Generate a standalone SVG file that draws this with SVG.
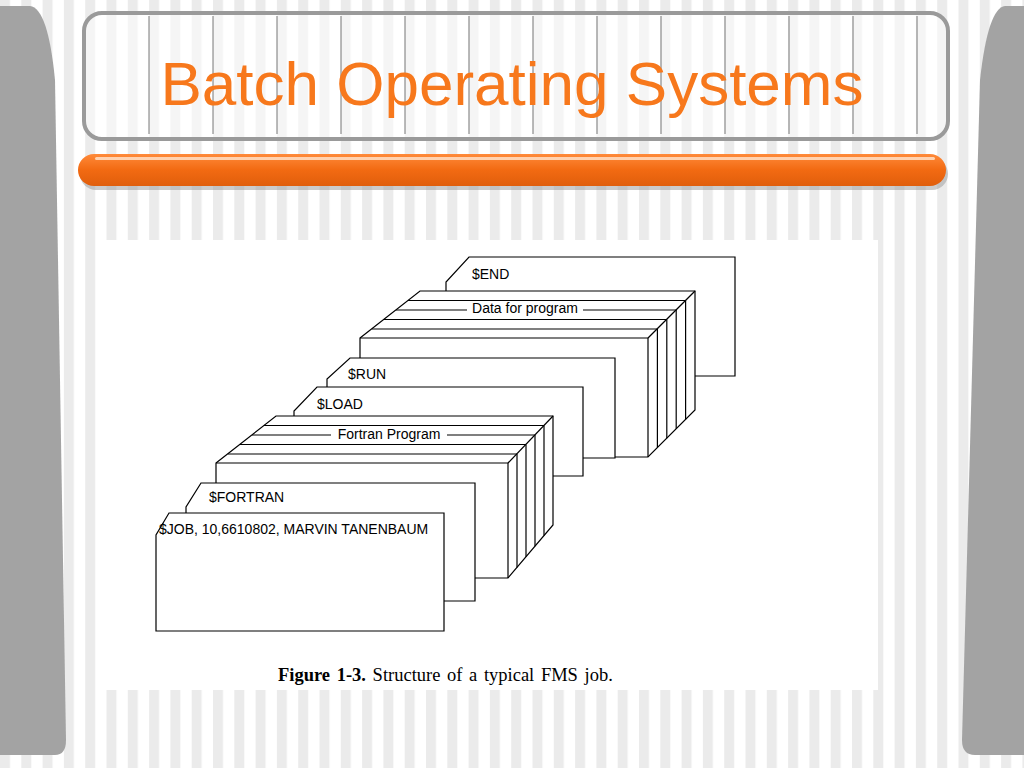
<svg xmlns="http://www.w3.org/2000/svg" width="1024" height="768" viewBox="0 0 1024 768">
<defs>
<pattern id="st" x="0" y="0" width="21.3" height="768" patternUnits="userSpaceOnUse"><rect x="0" y="0" width="10" height="768" fill="#ebebeb"/></pattern>
<linearGradient id="bar" x1="0" y1="0" x2="0" y2="1"><stop offset="0" stop-color="#ff8a3a"/><stop offset="0.5" stop-color="#f26a12"/><stop offset="1" stop-color="#e05e0c"/></linearGradient>
</defs>
<style>
.c{fill:#fff;stroke:#000;stroke-width:1.2}
.l{fill:none;stroke:#000;stroke-width:1.2}
.t{font-family:"Liberation Sans",Arial,sans-serif;font-size:14px;fill:#000}
</style>
<rect width="1024" height="768" fill="#fff"/>
<rect width="1024" height="768" fill="url(#st)"/>
<path d="M0,6 L30,6 Q48,8 55,80 L66,740 Q66,755 55,755 L0,755 Z" fill="#a3a3a3"/>
<path d="M1024,6 L1005,6 Q988,8 980,80 L962,740 Q962,755 975,755 L1024,755 Z" fill="#a3a3a3"/>
<rect x="84" y="13" width="864" height="126" rx="18" fill="#fff" fill-opacity="0.5" stroke="#9a9a9a" stroke-width="4"/>
<g stroke="#555" stroke-width="0.8"><line x1="149" y1="16" x2="149" y2="134"/><line x1="213" y1="16" x2="213" y2="134"/><line x1="277" y1="16" x2="277" y2="134"/><line x1="341" y1="16" x2="341" y2="134"/><line x1="405" y1="16" x2="405" y2="134"/><line x1="469" y1="16" x2="469" y2="134"/><line x1="533" y1="16" x2="533" y2="134"/><line x1="597" y1="16" x2="597" y2="134"/><line x1="661" y1="16" x2="661" y2="134"/><line x1="725" y1="16" x2="725" y2="134"/><line x1="789" y1="16" x2="789" y2="134"/><line x1="853" y1="16" x2="853" y2="134"/><line x1="917" y1="16" x2="917" y2="134"/></g>
<text x="512" y="105" text-anchor="middle" font-family="Liberation Sans,Arial,sans-serif" font-size="62" fill="#f7781c">Batch Operating Systems</text>
<rect x="80" y="158" width="868" height="32" rx="16" fill="#999" opacity="0.5"/>
<rect x="78" y="154" width="868" height="32" rx="16" fill="url(#bar)"/>
<rect x="95" y="157" width="840" height="3" rx="1.5" fill="#ffd2b0"/>
<rect x="100" y="240" width="778" height="450" fill="#fff"/>
<g id="end"><path class="c" d="M469,257 L735,257 L735,376 L446,376 L446,282 Z"/><text class="t" x="472" y="279">$END</text></g>
<g id="data">
<path class="c" d="M360,338 L420,291 L695,291 L695,410 L648,457 L360,457 Z"/>
<g class="l"><line x1="408" y1="300.5" x2="685.6" y2="300.5"/><line x1="396" y1="310" x2="676.2" y2="310"/><line x1="384" y1="319.5" x2="666.8" y2="319.5"/><line x1="372" y1="329" x2="657.4" y2="329"/><line x1="360" y1="338" x2="648" y2="338"/><line x1="648" y1="338" x2="695" y2="291"/>
<line x1="648" y1="338" x2="648" y2="457"/><line x1="657.4" y1="329" x2="657.4" y2="447.6"/><line x1="666.8" y1="319.5" x2="666.8" y2="438.2"/><line x1="676.2" y1="310" x2="676.2" y2="428.8"/><line x1="685.6" y1="300.5" x2="685.6" y2="419.4"/></g>
<rect x="467" y="302" width="116" height="14" fill="#fff"/><text class="t" x="525" y="313" text-anchor="middle" font-size="13">Data for program</text></g>
<g id="run"><path class="c" d="M350,358 L615,358 L615,458 L327,458 L327,379 Z"/><text class="t" x="348" y="379">$RUN</text></g>
<g id="load"><path class="c" d="M317,387 L583,387 L583,476 L294,476 L294,411 Z"/><text class="t" x="317" y="409">$LOAD</text></g>
<g id="fortranprog">
<path class="c" d="M216,463 L276,416 L553,416 L553,525 L508,578 L216,578 Z"/>
<g class="l"><line x1="264" y1="425.5" x2="544" y2="425.5"/><line x1="252" y1="435" x2="535" y2="435"/><line x1="240" y1="444.5" x2="526" y2="444.5"/><line x1="228" y1="454" x2="517" y2="454"/><line x1="216" y1="463" x2="508" y2="463"/><line x1="508" y1="463" x2="553" y2="416"/>
<line x1="508" y1="463" x2="508" y2="578"/><line x1="517" y1="454" x2="517" y2="567.4"/><line x1="526" y1="444.5" x2="526" y2="556.8"/><line x1="535" y1="435" x2="535" y2="546.2"/><line x1="544" y1="425.5" x2="544" y2="535.6"/></g>
<rect x="331" y="428" width="116" height="14" fill="#fff"/><text class="t" x="389" y="439" text-anchor="middle" font-size="13">Fortran Program</text></g>
<g id="fortran"><path class="c" d="M201,483 L475,483 L475,601 L186,601 L186,507 Z"/><text class="t" x="209" y="502">$FORTRAN</text></g>
<g id="job"><path class="c" d="M169,513 L444,513 L444,631 L156,631 L156,535 Z"/><text class="t" x="159" y="534" font-size="13.6">$JOB, 10,6610802, MARVIN TANENBAUM</text></g>
<text x="278" y="681" font-family="Liberation Serif,serif" font-size="18.5" word-spacing="2"><tspan font-weight="bold">Figure 1-3.</tspan>  Structure of a typical FMS job.</text>
</svg>
